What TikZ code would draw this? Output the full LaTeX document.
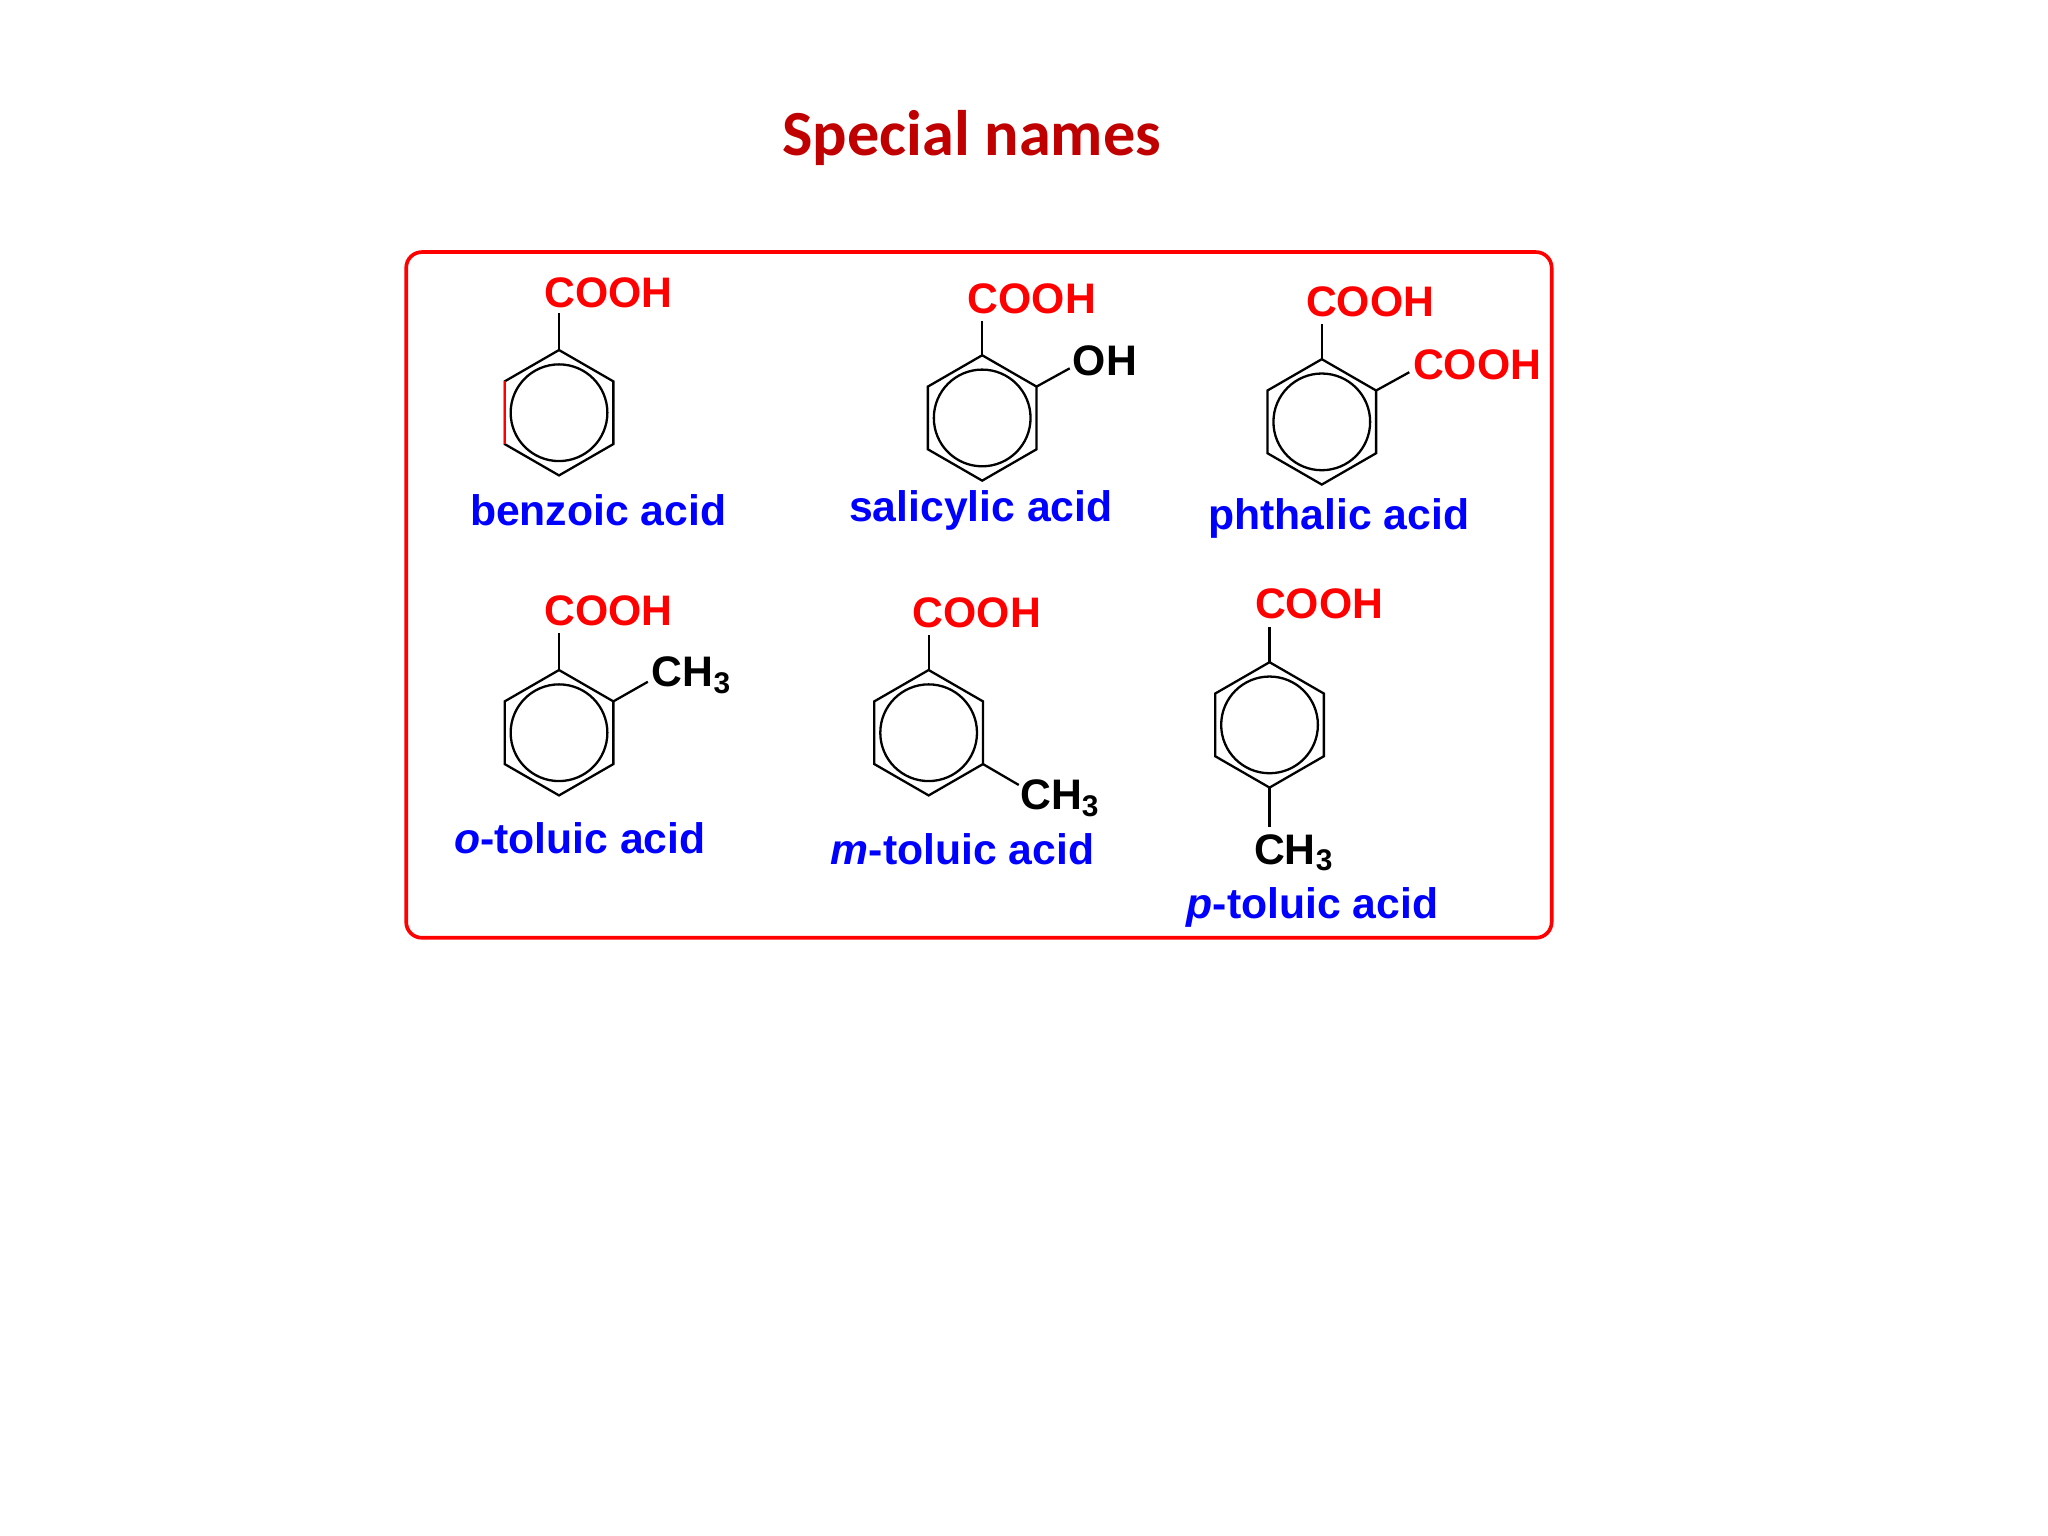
\documentclass[tikz,border=0pt]{standalone}
\usepackage{fontspec}
\setmainfont{Liberation Sans}
\newfontfamily\titlefont{Carlito}
\definecolor{tred}{RGB}{192,0,0}
\definecolor{cred}{RGB}{255,0,0}
\definecolor{nblue}{RGB}{0,0,255}
\tikzset{
  grp/.style={font=\fontsize{9.3}{11}\selectfont\bfseries, inner sep=0pt},
  red grp/.style={grp, text=cred},
  blk grp/.style={grp, text=black},
  name lbl/.style={font=\fontsize{9.3}{11}\selectfont\bfseries, text=nblue, inner sep=0pt},
  bond/.style={line width=0.5pt},
}
\newcommand{\benzring}[2]{%
  \draw[bond] (#1+0,#2-48) -- (#1+41.6,#2-24) -- (#1+41.6,#2+24) -- (#1+0,#2+48) -- (#1-41.6,#2+24) -- (#1-41.6,#2-24) -- cycle;
  \draw[bond] (#1,#2) circle[radius=0.37cm];}
\begin{document}
\begin{tikzpicture}[x=0.01cm,y=-0.01cm]
\useasboundingbox (0,0) rectangle (1568,1176);
\node[font=\titlefont\fontsize{14}{16}\selectfont\bfseries, text=tred] (title) at (744,106) {Special names};
\draw[cred, line width=0.8pt, rounded corners=0.12cm] (311,193) rectangle (1188,718);
% benzoic
\benzring{428}{316}
\draw[cred, line width=0.5pt] (386.4,292) -- (386.4,340);
\coordinate (b1) at (428,268);
\node[red grp] (b1c) at (466,224) {COOH};
\draw[bond] (b1) -- (428,240);
\node[name lbl] (n1) at (458,391) {benzoic acid};
% salicylic
\benzring{752}{320}
\coordinate (s1) at (752,272);
\node[red grp] (s1c) at (790,229) {COOH};
\draw[bond] (s1) -- (752,246);
\coordinate (s2) at (793.6,296);
\node[blk grp] (s2c) at (846,276) {OH};
\draw[bond] (s2) -- (819,282);
\node[name lbl] (n2) at (751,391) {salicylic acid};
% phthalic
\benzring{1012}{323}
\coordinate (p1) at (1012,275);
\node[red grp] (p1c) at (1049,231) {COOH};
\draw[bond] (p1) -- (1012,248);
\coordinate (p2) at (1053.6,299);
\node[red grp] (p2c) at (1131,279) {COOH};
\draw[bond] (p2) -- (1079,285);
\node[name lbl] (n3) at (1025,397) {phthalic acid};
% o-toluic
\benzring{428}{561}
\coordinate (o1) at (428,513);
\node[red grp] (o1c) at (466,468) {COOH};
\draw[bond] (o1) -- (428,485);
\coordinate (o2) at (469.6,537);
\node[blk grp] (o2c) at (530,517) {CH\textsubscript{3}};
\draw[bond] (o2) -- (496,522);
\node[name lbl] (n4) at (444,642) {\textit{o}-toluic acid};
% m-toluic
\benzring{711}{561}
\coordinate (m1) at (711,513);
\node[red grp] (m1c) at (748,469) {COOH};
\draw[bond] (m1) -- (711,486);
\coordinate (m2) at (752.6,585);
\node[blk grp] (m2c) at (812,611) {CH\textsubscript{3}};
\draw[bond] (m2) -- (780,601);
\node[name lbl] (n5) at (737,650) {\textit{m}-toluic acid};
% p-toluic
\benzring{972}{555}
\coordinate (q1) at (972,507);
\node[red grp] (q1c) at (1010,462) {COOH};
\draw[bond] (q1) -- (972,480);
\coordinate (q2) at (972,603);
\node[blk grp] (q2c) at (991,653) {CH\textsubscript{3}};
\draw[bond] (q2) -- (972,633);
\node[name lbl] (n6) at (1005,695) {\textit{p}-toluic acid};
\end{tikzpicture}
\end{document}
